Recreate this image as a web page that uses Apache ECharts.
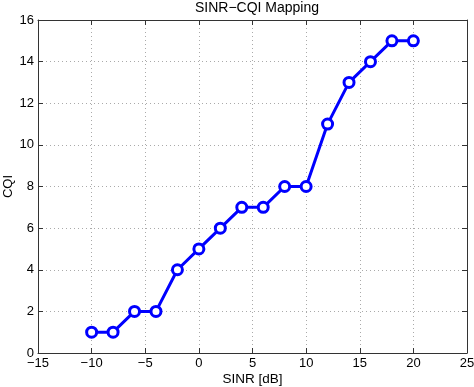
<!DOCTYPE html>
<html><head><meta charset="utf-8">
<script src="https://cdn.jsdelivr.net/npm/echarts@6/dist/echarts.min.js"></script>
<style>html,body{margin:0;padding:0;background:#fff}#c{width:474px;height:387px}</style>
</head><body><div id="c"></div>
<script>
const sinr = [-10,-8,-6,-4,-2,0,2,4,6,8,10,12,14,16,18,20];
const cqi = [1,1,2,2,4,5,6,7,7,8,8,11,13,14,15,15];
const xTicks = [-15,-10,-5,0,5,10,15,20,25];
const yTicks = [0,2,4,6,8,10,12,14,16];
const font = 'Liberation Sans, Arial, Helvetica, sans-serif';
const chart = echarts.init(document.getElementById('c'));
const fmt = v => String(v).replace('-', '\u2212');
const axisCommon = {
  axisLine:{show:true,onZero:false,lineStyle:{color:'#333',width:1}},
  axisTick:{show:true,inside:true,length:5,lineStyle:{color:'#333'}},
  splitLine:{show:false}
};
chart.setOption({
  animation:false,
  title:{text:'SINR\u2212CQI Mapping',left:252,top:-4,textAlign:'center',textStyle:{fontSize:14,fontWeight:'normal',color:'#000',fontFamily:font}},
  grid:{left:38,right:7,top:20,bottom:34,containLabel:false,outerBoundsMode:'none'},
  xAxis:[
    Object.assign({},axisCommon,{type:'value',min:xTicks[0],max:xTicks[xTicks.length-1],interval:5,position:'bottom',
      name:'SINR [dB]',nameLocation:'middle',nameGap:19,nameMoveOverlap:false,nameTextStyle:{fontSize:13.5,color:'#000',fontFamily:font},
      axisLabel:{color:'#000',fontSize:13,fontFamily:font,margin:4,formatter:fmt},
      splitLine:{show:true,lineStyle:{color:'#aaa',type:[1,3],width:1}}}),
    Object.assign({},axisCommon,{type:'value',min:xTicks[0],max:xTicks[xTicks.length-1],interval:5,position:'top',axisLabel:{show:false}})
  ],
  yAxis:[
    Object.assign({},axisCommon,{type:'value',min:yTicks[0],max:yTicks[yTicks.length-1],interval:2,position:'left',
      name:'CQI',nameLocation:'middle',nameGap:23,nameMoveOverlap:false,nameTextStyle:{fontSize:13,color:'#000',fontFamily:font},
      axisLabel:{color:'#000',fontSize:13,fontFamily:font,margin:4,formatter:fmt},
      splitLine:{show:true,lineStyle:{color:'#aaa',type:[1,3],width:1}}}),
    Object.assign({},axisCommon,{type:'value',min:yTicks[0],max:yTicks[yTicks.length-1],interval:2,position:'right',axisLabel:{show:false}})
  ],
  series:[{
    type:'line',
    data:sinr.map((x,i)=>[x,cqi[i]]),
    symbol:'circle',symbolSize:10,
    lineStyle:{color:'#0000ff',width:3},
    itemStyle:{color:'#ffffff',borderColor:'#0000ff',borderWidth:3},
    z:5
  }]
});
</script></body></html>
